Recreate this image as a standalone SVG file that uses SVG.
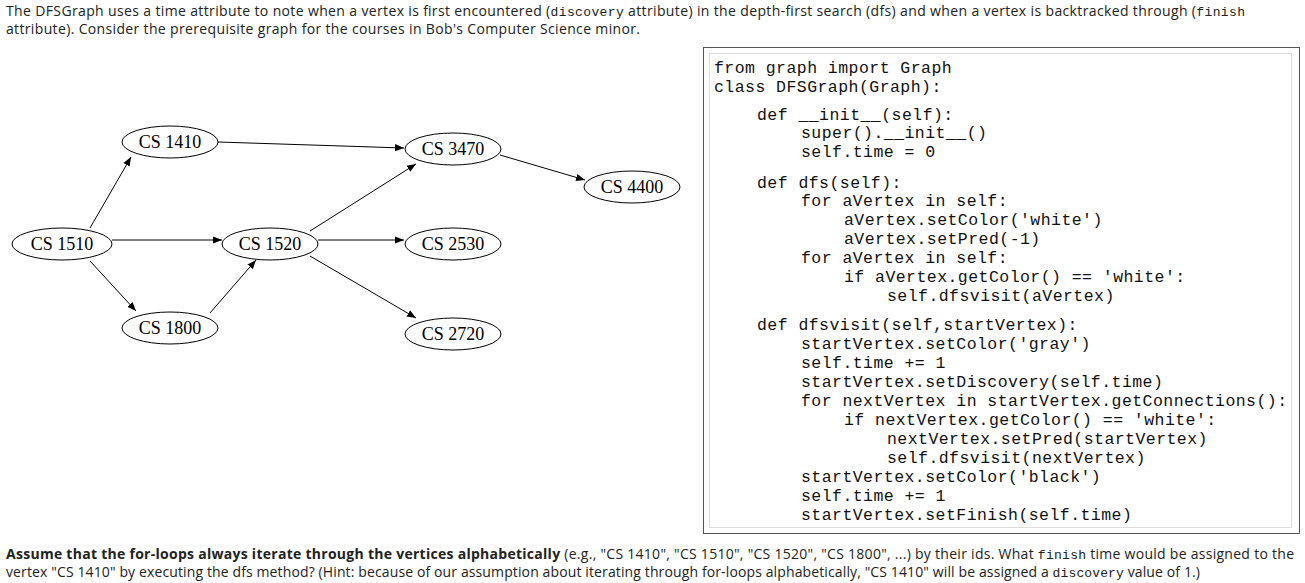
<svg xmlns="http://www.w3.org/2000/svg" width="1305" height="583" viewBox="0 0 1305 583">
<style>
.t{font-family:"Open Sans","Liberation Sans",sans-serif;font-size:14px;fill:#222}
.m{font-family:"Liberation Mono",monospace;font-size:13px}
.c{font-family:"Liberation Mono",monospace;font-size:16.5px;fill:#111;letter-spacing:0.45px}
.n ellipse{fill:#fff;stroke:#000;stroke-width:1}
.n text{font-family:"Liberation Serif",serif;font-size:18px;text-anchor:middle;fill:#000}
.e line{stroke:#000;stroke-width:1;marker-end:url(#a)}
</style>
<defs><marker id="a" viewBox="0 0 10 10" refX="10" refY="5" markerWidth="9" markerHeight="9" markerUnits="userSpaceOnUse" orient="auto"><path d="M0,1L10,5L0,9z" fill="#000"/></marker></defs>
<rect width="1305" height="583" fill="#fff"/>
<text class="t" x="6" y="16" textLength="1239" lengthAdjust="spacing">The DFSGraph uses a time attribute to note when a vertex is first encountered (<tspan class="m">discovery</tspan> attribute) in the depth-first search (dfs) and when a vertex is backtracked through (<tspan class="m">finish</tspan></text>
<text class="t" x="6" y="34" textLength="634" lengthAdjust="spacing">attribute).  Consider the prerequisite graph for the courses in Bob's Computer Science minor.</text>
<g id="code">
<rect x="703.5" y="47.5" width="596" height="486" fill="#fff" stroke="#555"/>
<rect x="709.5" y="53.5" width="582" height="474" fill="none" stroke="#ddd"/>
<text class="c" x="714" y="73">from graph import Graph</text>
<text class="c" x="714" y="92">class DFSGraph(Graph):</text>
<text class="c" x="757" y="120">def __init__(self):</text>
<text class="c" x="801" y="138">super().__init__()</text>
<text class="c" x="801" y="157">self.time = 0</text>
<text class="c" x="757" y="188">def dfs(self):</text>
<text class="c" x="801" y="206">for aVertex in self:</text>
<text class="c" x="844" y="225">aVertex.setColor('white')</text>
<text class="c" x="844" y="244">aVertex.setPred(-1)</text>
<text class="c" x="801" y="263">for aVertex in self:</text>
<text class="c" x="844" y="282">if aVertex.getColor() == 'white':</text>
<text class="c" x="887" y="301">self.dfsvisit(aVertex)</text>
<text class="c" x="757" y="330">def dfsvisit(self,startVertex):</text>
<text class="c" x="801" y="349">startVertex.setColor('gray')</text>
<text class="c" x="801" y="368">self.time += 1</text>
<text class="c" x="801" y="387">startVertex.setDiscovery(self.time)</text>
<text class="c" x="801" y="406">for nextVertex in startVertex.getConnections():</text>
<text class="c" x="844" y="425">if nextVertex.getColor() == 'white':</text>
<text class="c" x="887" y="444">nextVertex.setPred(startVertex)</text>
<text class="c" x="887" y="463">self.dfsvisit(nextVertex)</text>
<text class="c" x="801" y="482">startVertex.setColor('black')</text>
<text class="c" x="801" y="501">self.time += 1</text>
<text class="c" x="801" y="520">startVertex.setFinish(self.time)</text>
</g>
<g id="edges" class="e">
<line x1="90" y1="228" x2="131" y2="157"/>
<line x1="218" y1="142" x2="404" y2="148"/>
<line x1="500" y1="155" x2="585" y2="180"/>
<line x1="112" y1="240" x2="222" y2="240"/>
<line x1="310" y1="231" x2="416" y2="164"/>
<line x1="318" y1="240" x2="404" y2="240"/>
<line x1="310" y1="256" x2="416" y2="318"/>
<line x1="90" y1="261" x2="136" y2="311"/>
<line x1="210" y1="313" x2="256" y2="260"/>
</g>
<g id="n1410" class="n"><ellipse cx="170" cy="142" rx="48" ry="16"/><text x="170" y="148">CS 1410</text></g>
<g id="n3470" class="n"><ellipse cx="453" cy="149" rx="48" ry="16"/><text x="453" y="155">CS 3470</text></g>
<g id="n4400" class="n"><ellipse cx="632" cy="187" rx="48" ry="16"/><text x="632" y="193">CS 4400</text></g>
<g id="n1510" class="n"><ellipse cx="62" cy="244" rx="50" ry="16"/><text x="62" y="250">CS 1510</text></g>
<g id="n1520" class="n"><ellipse cx="270" cy="244" rx="48" ry="16"/><text x="270" y="250">CS 1520</text></g>
<g id="n2530" class="n"><ellipse cx="453" cy="244" rx="48" ry="16"/><text x="453" y="250">CS 2530</text></g>
<g id="n1800" class="n"><ellipse cx="170" cy="328" rx="48" ry="16"/><text x="170" y="334">CS 1800</text></g>
<g id="n2720" class="n"><ellipse cx="453" cy="334" rx="48" ry="16"/><text x="453" y="340">CS 2720</text></g>
<text class="t" x="6" y="559" textLength="1288" lengthAdjust="spacing"><tspan font-weight="bold">Assume that the for-loops always iterate through the vertices alphabetically</tspan> (e.g., "CS 1410", "CS 1510", "CS 1520", "CS 1800", ...) by their ids.  What <tspan class="m">finish</tspan> time would be assigned to the</text>
<text class="t" x="6" y="577" textLength="1194" lengthAdjust="spacing">vertex "CS 1410" by executing the dfs method?  (Hint:  because of our assumption about iterating through for-loops alphabetically, "CS 1410" will be assigned a <tspan class="m">discovery</tspan> value of 1.)</text>
</svg>
